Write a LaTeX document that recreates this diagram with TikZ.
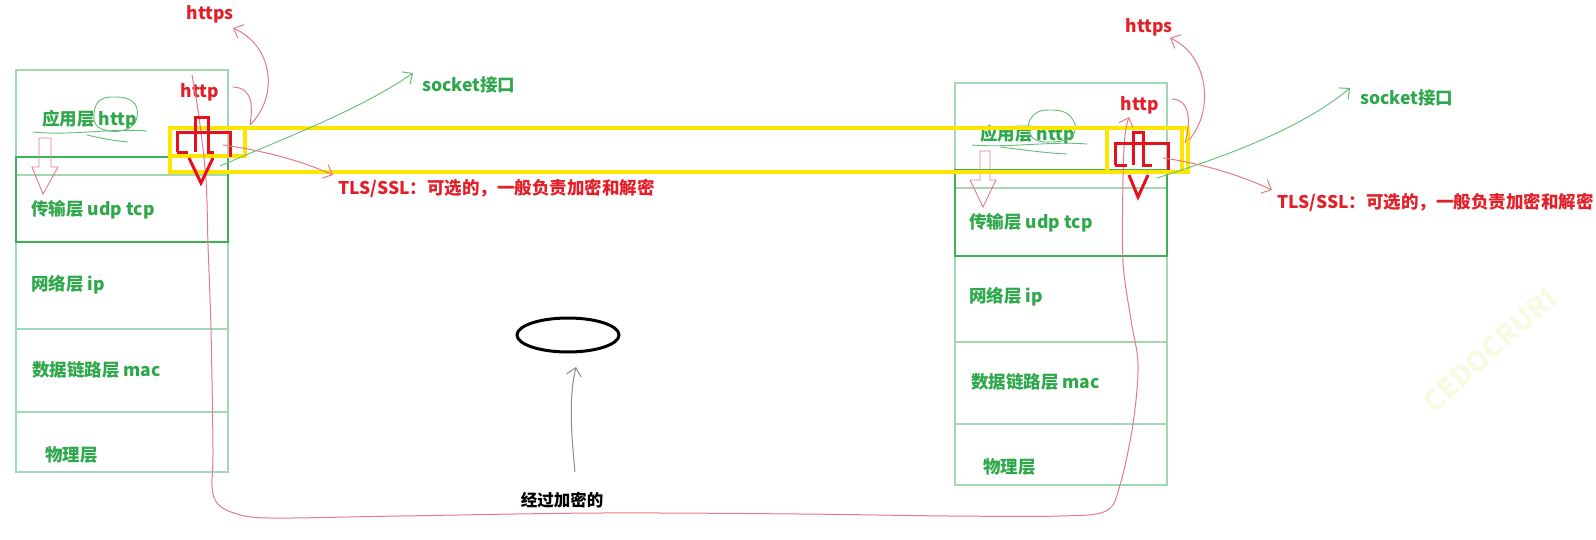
\documentclass[tikz,border=0pt]{standalone}
\usepackage{fontspec}
\setmainfont{Noto Sans CJK SC}
\usetikzlibrary{arrows.meta,shapes.geometric}
\definecolor{tgreen}{HTML}{2EA84B}
\definecolor{tred}{HTML}{E3202A}
\definecolor{lgreen}{HTML}{A3D9B2}
\definecolor{dgreen}{HTML}{3DB155}
\definecolor{lred}{HTML}{E47C86}
\definecolor{yel}{HTML}{FFE600}
\definecolor{blockred}{HTML}{E8101C}
\definecolor{wmark}{HTML}{F6FBE2}
\definecolor{garrow}{HTML}{8C8C8C}
\begin{document}
\begin{tikzpicture}[x=1pt,y=-1pt,
  lbl/.style={font=\fontsize{17.5}{20}\selectfont\bfseries, inner sep=0pt},
  gtext/.style={lbl, text=tgreen, anchor=west},
  rtext/.style={lbl, text=tred},
  stackline/.style={draw=lgreen, line width=1.2pt},
  transbox/.style={draw=dgreen, line width=1.2pt},
  ylw/.style={draw=yel, line width=4pt},
  blk/.style={draw=blockred, line width=3pt, line join=miter},
  thinred/.style={draw=lred, line width=1pt},
  thingreen/.style={draw=tgreen!75, line width=0.9pt},
  hollow/.style={draw=lred, line width=0.9pt},
  barb/.style={-{Straight Barb[length=8pt,width=15pt,line width=1pt]}},
]
\useasboundingbox[fill=white] (0,0) rectangle (1596,539);

% watermark
\node[rotate=42, text=wmark, font=\fontsize{28}{30}\selectfont\bfseries, inner sep=0pt] (wm) at (1490,350) {CEDOCRURI};

% left stack
\draw[stackline] (16,70) rectangle (228,472);
\foreach \yy in {175,242,329,412} \draw[stackline] (16,\yy) -- (228,\yy);
\draw[transbox] (16,157) rectangle (228,242);
% right stack
\draw[stackline] (955,83) rectangle (1167,485);
\foreach \yy in {188,256,342,424} \draw[stackline] (955,\yy) -- (1167,\yy);
\draw[transbox] (955,170) rectangle (1167,256);

% layer texts
\node[gtext] (l7) at (42,120) {应用层 http};
\node[gtext] (l4) at (31,210) {传输层 udp tcp};
\node[gtext] (l3) at (31,285) {网络层 ip};
\node[gtext] (l2) at (32,370) {数据链路层 mac};
\node[gtext] (l1) at (45,455) {物理层};
\node[gtext] (r7) at (980,135) {应用层 http};
\node[gtext] (r4) at (969,223) {传输层 udp tcp};
\node[gtext] (r3) at (969,297) {网络层 ip};
\node[gtext] (r2) at (971,382) {数据链路层 mac};
\node[gtext] (r1) at (983,467) {物理层};

% clouds and squiggles
\draw[thingreen] plot[smooth cycle, tension=0.7] coordinates {(95,108) (102,99) (115,97) (128,99) (136,106) (137,117) (132,126) (120,131) (105,130) (95,123)};
\draw[thingreen] (33,132) .. controls (70,136) and (110,128) .. (147,131);
\draw[thingreen] (87,135) .. controls (100,138) and (115,141) .. (128,142);
\draw[thingreen] plot[smooth cycle, tension=0.7] coordinates {(1030,120) (1038,112) (1050,110) (1064,112) (1073,120) (1075,130) (1068,139) (1052,142) (1036,140) (1029,131)};
\draw[thingreen] (972,145) .. controls (1010,148) and (1050,141) .. (1087,144);
\draw[thingreen] (1000,147) .. controls (1025,150) and (1045,153) .. (1067,154);

% hollow down arrows
\draw[hollow] (39,138) -- (51,138) -- (51,167) -- (58,167) -- (43,194) -- (32,167) -- (39,167) -- cycle;
\draw[hollow] (980,151) -- (990,151) -- (990,180) -- (996,180) -- (983,207) -- (970,180) -- (980,180) -- cycle;

% red labels
\node[rtext] (lhttps) at (210,14) {https};
\node[rtext] (lhttp) at (200,92) {http};
\node[rtext] (rhttps) at (1149,27) {https};
\node[rtext] (rhttp) at (1140,105) {http};
\node[rtext, anchor=west] (ltls) at (338,188) {TLS/SSL：可选的，一般负责加密和解密};
\node[rtext, anchor=west] (rtls) at (1277,202) {TLS/SSL：可选的，一般负责加密和解密};
\node[gtext] (lsock) at (422,85) {socket接口};
\node[gtext] (rsock) at (1360,98) {socket接口};

% yellow boxes
\draw[ylw] (170,128) rectangle (1182,172);
\draw[ylw] (170,128) rectangle (245,156);
\draw[ylw] (1107,128) rectangle (1188,172);

% long red connector
\coordinate (lstart) at (192,75);
\coordinate (rend) at (1129,117);
\draw[thinred, barb] plot[smooth, tension=0.55] coordinates {(lstart) (199,117) (206,180) (208,245) (211,330) (213,450) (212,486) (217,503) (234,513) (270,518) (400,516) (600,513) (800,514) (950,516) (1060,516) (1106,511) (1120,485) (1133,424) (1138,365) (1131,320) (1123,262) (1123,180) (1125,135) (rend)};

% red block arrows
\draw[blk] (177,152) -- (177,132) -- (230,132) -- (230,157);
\draw[blk] (177,152) -- (188,152);
\draw[blk] (195,152) -- (195,117) -- (208,117) -- (208,152) -- (214,152);
\draw[blk] (189,158) -- (201,183) -- (213,158);
\draw[blk] (1115,165) -- (1115,143) -- (1168,143) -- (1168,170);
\draw[blk] (1115,165) -- (1127,165);
\draw[blk] (1133,165) -- (1133,132) -- (1143,132) -- (1143,165) -- (1152,165);
\draw[blk] (1129,175) -- (1138,197) -- (1148,175);

% https / http curves
\coordinate (lcurl) at (250,125);
\draw[thinred, barb] (lcurl) .. controls (280,95) and (272,45) .. (233,28);
\draw[thinred] (233,87) .. controls (255,88) and (252,110) .. (lcurl);
\coordinate (rcurl) at (1189,140);
\draw[thinred, barb] (rcurl) .. controls (1215,110) and (1208,55) .. (1170,38);
\draw[thinred] (1172,99) .. controls (1192,100) and (1190,125) .. (1185,143);

% socket arrows
\coordinate (lsockS) at (220,166);
\coordinate (lsockE) at (413,73);
\draw[thingreen, barb] (lsockS) .. controls (280,140) and (360,110) .. (lsockE);
\coordinate (rsockS) at (1157,178);
\coordinate (rsockE) at (1350,88);
\draw[thingreen, barb] (rsockS) .. controls (1220,158) and (1300,130) .. (rsockE);

% TLS arrows
\coordinate (ltlsS) at (223,145);
\coordinate (ltlsE) at (333,175);
\draw[thinred, barb] (ltlsS) .. controls (260,150) and (300,160) .. (ltlsE);
\coordinate (rtlsS) at (1163,158);
\coordinate (rtlsE) at (1272,190);
\draw[thinred, barb] (rtlsS) .. controls (1200,163) and (1240,175) .. (rtlsE);

% encrypted data
\node[draw=black, ellipse, line width=3pt, minimum width=102pt, minimum height=34pt, inner sep=0pt] (cipher) at (568,335) {};
\node[lbl, text=black, font=\fontsize{16.5}{19}\selectfont\bfseries] (enc) at (562,500) {经过加密的};
\coordinate (encTop) at (575,472);
\coordinate (cipherTip) at (576,367);
\draw[draw=garrow, line width=1pt, barb] (encTop) .. controls (572,440) and (568,400) .. (cipherTip);
\end{tikzpicture}
\end{document}
